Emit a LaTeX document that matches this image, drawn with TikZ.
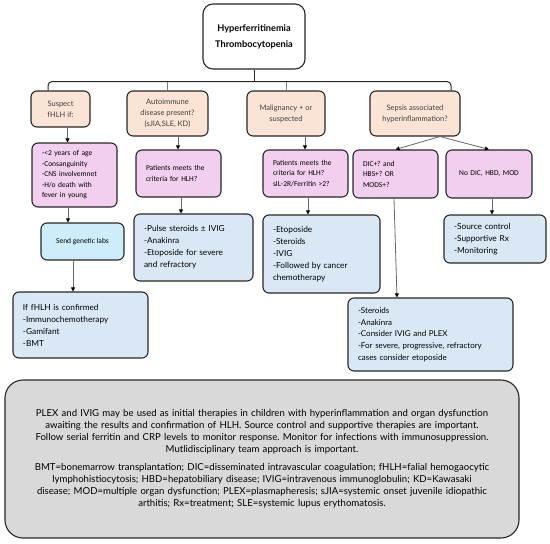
\documentclass[tikz,border=0pt]{standalone}
\usepackage{fontspec}
\setmainfont{Lato}
\newfontfamily\calfont{Carlito}
\usetikzlibrary{arrows.meta}
\definecolor{peach}{HTML}{FBE3D6}
\definecolor{critpink}{HTML}{F2CFEE}
\definecolor{rxblue}{HTML}{DAE8F6}
\definecolor{labcyan}{HTML}{CDEDFA}
\definecolor{notegray}{HTML}{D9D9D9}
\tikzset{
    box/.style = {rectangle, rounded corners=6pt, line width=1.1pt, draw=black!85, align=center},
    topbox/.style = {box, rounded corners=10pt, fill=white, font=\bfseries\fontsize{9.2}{16}\selectfont},
    qbox/.style = {box, fill=peach, text=black!75, font=\fontsize{7.5}{11}\selectfont},
    critbox/.style = {box, fill=critpink, align=left, inner xsep=10pt, font=\calfont\fontsize{7.5}{10.5}\selectfont},
    rxbox/.style = {box, fill=rxblue, align=left, inner xsep=10pt, font=\fontsize{8.3}{12}\selectfont},
    labbox/.style = {box, fill=labcyan, font=\calfont\fontsize{7.5}{10}\selectfont},
    notebox/.style = {box, rounded corners=18pt, fill=notegray, font=\fontsize{9.6}{12}\selectfont},
    arr/.style = {draw=black!60, line width=0.8pt, -{Triangle[color=black,length=4pt,width=4pt]}},
    busline/.style = {draw=black!85, line width=1pt, rounded corners=4pt},
    tick/.style = {draw=black!50, line width=0.7pt}
}

\begin{document}
\frenchspacing
\begin{tikzpicture}[x=1pt,y=-1pt]
\useasboundingbox (0,0) rectangle (550,544);
\node[topbox, minimum width=102pt, minimum height=65pt] at (254,36.5) (top) {Hyperferritinemia\\Thrombocytopenia};
% first row
\node[qbox, minimum width=59pt, minimum height=36pt] at (60.5,109) (suspect) {Suspect\\fHLH if:};
\node[qbox, minimum width=81pt, minimum height=45pt] at (167.5,113.5) (autoimm) {Autoimmune\\disease present?\\(sJIA,SLE, KD)};
\node[qbox, minimum width=78pt, minimum height=45pt] at (286,113.5) (malig) {Malignancy + or\\suspected};
\node[qbox, minimum width=90pt, minimum height=45pt] at (415,113.5) (sepsis) {Sepsis associated\\hyperinflammation?};
% second row
\node[critbox, text width=65pt, minimum height=64pt] at (74.5,175) (signs) {-<2 years of age\\-Consanguinity\\-CNS involvemnet\\-H/o death with\\fever in young};
\node[critbox, text width=65pt, minimum height=47pt] at (178.5,173.5) (hlhcrit) {Patients meets the\\criteria for HLH?};
\node[critbox, text width=65pt, minimum height=47pt] at (305.5,173.5) (maligcrit) {Patients meets the\\criteria for HLH?\\sIL-2R/Ferritin >2?};
\node[critbox, text width=65pt, minimum height=48pt] at (395.5,174) (dic) {DIC+? and\\HBS+? OR\\MODS+?};
\node[critbox, align=center, text width=66pt, minimum height=48pt] at (489,174) (nodic) {No DIC, HBD, MOD};
% third row
\node[labbox, minimum width=83pt, minimum height=37pt] at (82.5,241.5) (genetic) {Send genetic labs};
\node[rxbox, text width=99pt, minimum height=67pt] at (193.5,247.5) (pulse) {-Pulse steroids ± IVIG\\-Anakinra\\-Etoposide for severe\\and refractory};
\node[rxbox, text width=97pt, minimum height=78pt] at (321.5,254) (etop) {-Etoposide\\-Steroids\\-IVIG\\-Followed by cancer\\chemotherapy};
\node[rxbox, text width=82pt, minimum height=48pt] at (495,239) (source) {-Source control\\-Supportive Rx\\-Monitoring};
\node[rxbox, text width=115pt, minimum height=66pt] at (80.5,325) (confirmed) {If fHLH is confirmed\\-Immunochemotherapy\\-Gamifant\\-BMT};
\node[rxbox, text width=145pt, minimum height=73pt, font=\fontsize{8}{11.7}\selectfont] at (430.5,334.5) (steroids) {-Steroids\\-Anakinra\\-Consider IVIG and PLEX\\-For severe, progressive, refractory\\cases consider etoposide};
% summary
\node[notebox, text width=500pt, minimum width=514pt, minimum height=158pt] at (262,459) (note) {PLEX and IVIG may be used as initial therapies in children with hyperinflammation and organ dysfunction\\awaiting the results and confirmation of HLH. Source control and supportive therapies are important.\\Follow serial ferritin and CRP levels to monitor response. Monitor for infections with immunosuppression.\\Mutlidisciplinary team approach is important.\\[6pt]BMT=bonemarrow transplantation; DIC=disseminated intravascular coagulation; fHLH=falial hemogaocytic\\lymphohistiocytosis; HBD=hepatobiliary disease; IVIG=intravenous immunoglobulin; KD=Kawasaki\\disease; MOD=multiple organ dysfunction; PLEX=plasmapheresis; sJIA=systemic onset juvenile idiopathic\\arthitis; Rx=treatment; SLE=systemic lupus erythomatosis.};
% bus
\coordinate (bus) at ([yshift=-12pt]top.south);
\draw[busline] (top.south) -- (bus);
\draw[busline] ([xshift=-12.5pt]suspect.north) |- (bus) -| ([xshift=36pt]sepsis.north);
\draw[tick] (autoimm.north) -- (autoimm.north |- bus);
\draw[tick] (malig.north) -- (malig.north |- bus);
% arrows
\draw[arr] ([xshift=7pt]suspect.south) -- ([xshift=7pt]suspect.south |- signs.north);
\draw[arr] ([xshift=10.5pt]autoimm.south) -- ([xshift=10.5pt]autoimm.south |- hlhcrit.north);
\draw[arr] ([xshift=19pt]malig.south) -- ([xshift=19pt]malig.south |- maligcrit.north);
\draw[arr] ([xshift=25pt]sepsis.south) -- (dic.north);
\draw[arr] ([xshift=25pt]sepsis.south) -- (nodic.north);
\draw[arr] ([xshift=-6.5pt]signs.south) -- ([xshift=-6.5pt]signs.south |- genetic.north);
\draw[arr] ([xshift=2.5pt]hlhcrit.south) -- ([xshift=2.5pt]hlhcrit.south |- pulse.north);
\draw[arr] ([xshift=2.5pt]maligcrit.south) -- ([xshift=2.5pt]maligcrit.south |- etop.north);
\draw[arr] ([xshift=3pt]nodic.south) -- ([xshift=3pt]nodic.south |- source.north);
\draw[arr] ([xshift=-1.5pt]dic.south) -- ([xshift=-33.5pt]steroids.north);
\draw[arr] ([xshift=-9.5pt]genetic.south) -- ([xshift=-9.5pt]genetic.south |- confirmed.north);
\end{tikzpicture}
\end{document}
